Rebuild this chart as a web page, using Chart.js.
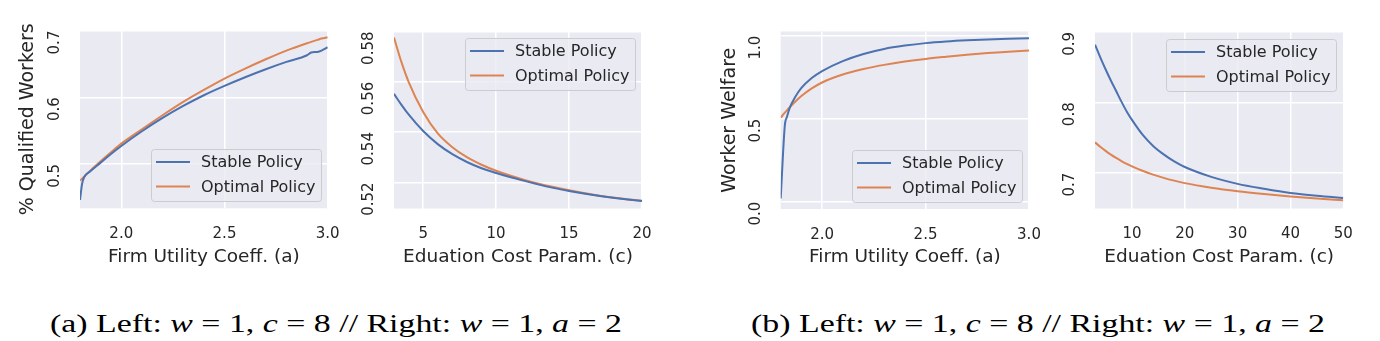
<!DOCTYPE html>
<html>
<head>
<meta charset="utf-8">
<script src="https://cdn.jsdelivr.net/npm/chart.js@4.4.1/dist/chart.umd.min.js"></script>
<style>
  html, body { margin: 0; padding: 0; background: #fff; }
  body { width: 1380px; height: 341px; position: relative; overflow: hidden; }
  canvas { position: absolute; top: 0; }
  .caption { position: absolute; top: 311.5px; font-family: 'Liberation Serif', 'Times New Roman', serif; font-size: 24.5px; line-height: 1; white-space: nowrap; color: #000; transform-origin: 0 0; }
  .caption i { font-style: italic; }
</style>
</head>
<body>
<canvas id="qualByA"></canvas>
<canvas id="qualByC"></canvas>
<canvas id="welfByA"></canvas>
<canvas id="welfByC"></canvas>
<div class="caption" data-left="50" data-width="572">(a) Left: <i>w</i> = 1, <i>c</i> = 8 // Right: <i>w</i> = 1, <i>a</i> = 2</div>
<div class="caption" data-left="751" data-width="574">(b) Left: <i>w</i> = 1, <i>c</i> = 8 // Right: <i>w</i> = 1, <i>a</i> = 2</div>
<script>
'use strict';

// (a) left: % qualified workers vs firm utility coeff.
var qualA = [1.80, 1.81, 1.82, 1.85, 1.90, 1.95, 2.00, 2.10, 2.20, 2.30, 2.40, 2.50, 2.60, 2.70, 2.80, 2.90, 2.92, 2.95, 2.97, 3.00];
var qualAStable = [0.446, 0.470, 0.480, 0.489, 0.502, 0.515, 0.527, 0.549, 0.569, 0.587, 0.603, 0.617, 0.630, 0.642, 0.653, 0.663, 0.667, 0.668, 0.670, 0.675];
var qualAOptimal = [0.475, 0.478, 0.481, 0.490, 0.504, 0.5175, 0.5305, 0.552, 0.573, 0.593, 0.611, 0.628, 0.643, 0.657, 0.670, 0.681, 0.683, 0.686, 0.688, 0.690];
var qualAXTicks = [2.0, 2.5, 3.0];
var qualAYTicks = [0.5, 0.6, 0.7];

// (a) right: % qualified workers vs education cost
var qualC = [3, 3.5, 4, 5, 6, 7, 8, 9, 10, 11, 12, 13, 14, 15, 16, 17, 18, 19, 20];
var qualCStable = [0.5552, 0.5509, 0.5470, 0.5404, 0.5352, 0.5312, 0.5281, 0.5256, 0.5237, 0.5220, 0.5205, 0.5190, 0.5177, 0.5166, 0.5156, 0.5147, 0.5139, 0.5132, 0.5126];
var qualCOptimal = [0.5776, 0.5680, 0.5600, 0.5480, 0.5395, 0.5340, 0.5300, 0.5270, 0.5246, 0.5226, 0.5209, 0.5194, 0.5181, 0.5169, 0.5158, 0.5148, 0.5140, 0.5133, 0.5127];
var qualCXTicks = [5, 10, 15, 20];
var qualCYTicks = [0.52, 0.54, 0.56, 0.58];

// (b) left: worker welfare vs firm utility coeff.
var welfA = [1.80, 1.82, 1.83, 1.845, 1.87, 1.90, 1.95, 2.00, 2.10, 2.20, 2.30, 2.40, 2.50, 2.60, 2.70, 2.80, 2.90, 3.00];
var welfAStable = [0.02, 0.46, 0.51, 0.57, 0.63, 0.685, 0.745, 0.787, 0.847, 0.890, 0.920, 0.940, 0.955, 0.965, 0.972, 0.977, 0.981, 0.985];
var welfAOptimal = [0.506, 0.536, 0.550, 0.570, 0.602, 0.636, 0.682, 0.718, 0.766, 0.799, 0.824, 0.844, 0.860, 0.873, 0.885, 0.895, 0.903, 0.911];
var welfAXTicks = [2.0, 2.5, 3.0];
var welfAYTicks = [0.0, 0.5, 1.0];

// (b) right: worker welfare vs education cost
var welfC = [3, 4, 5, 6, 7, 8, 9, 10, 12, 14, 16, 18, 20, 25, 30, 35, 40, 45, 50];
var welfCStable = [0.882, 0.864, 0.847, 0.831, 0.816, 0.801, 0.787, 0.775, 0.754, 0.738, 0.726, 0.716, 0.708, 0.694, 0.684, 0.677, 0.671, 0.667, 0.664];
var welfCOptimal = [0.743, 0.7368, 0.7310, 0.7257, 0.7209, 0.7165, 0.7125, 0.7089, 0.7026, 0.6972, 0.6926, 0.6886, 0.6851, 0.6786, 0.6736, 0.6696, 0.6661, 0.6631, 0.6606];
var welfCXTicks = [10, 20, 30, 40, 50];
var welfCYTicks = [0.7, 0.8, 0.9];

var BLUE = '#4c72b0';
var ORANGE = '#dd8452';
var INK = '#262626';
var FONT = '"DejaVu Sans", sans-serif';

var plotBg = {
  id: 'plotBg',
  beforeDraw: function (chart) {
    var a = chart.chartArea, ctx = chart.ctx;
    ctx.save();
    ctx.fillStyle = '#eaeaf2';
    ctx.fillRect(a.left, a.top, a.right - a.left, a.bottom - a.top);
    ctx.restore();
  }
};

var boxLegend = {
  id: 'boxLegend',
  afterDraw: function (chart, args, opts) {
    var a = chart.chartArea, ctx = chart.ctx;
    var w = 170, h = 52;
    var x = Math.round(a.right - 7 - w);
    var y = Math.round(opts.corner === 'top' ? a.top + 7 : a.bottom - 7 - h);
    ctx.save();
    ctx.beginPath();
    ctx.roundRect(x + 0.5, y + 0.5, w, h, 3);
    ctx.fillStyle = 'rgba(234, 234, 242, 0.8)';
    ctx.fill();
    ctx.strokeStyle = '#cccccc';
    ctx.lineWidth = 1;
    ctx.stroke();
    ctx.font = '16px ' + FONT;
    ctx.textBaseline = 'middle';
    chart.data.datasets.forEach(function (ds, i) {
      var ly = y + 13 + i * 24.4;
      ctx.strokeStyle = ds.borderColor;
      ctx.lineWidth = 2;
      ctx.beginPath();
      ctx.moveTo(x + 5, ly);
      ctx.lineTo(x + 39, ly);
      ctx.stroke();
      ctx.fillStyle = INK;
      ctx.fillText(ds.label, x + 50, ly + 1);
    });
    ctx.restore();
  }
};

function pairs(xs, ys) {
  return xs.map(function (v, i) { return { x: v, y: ys[i] }; });
}

function noScalePadding(s) {
  s.paddingLeft = 0; s.paddingRight = 0; s.paddingTop = 0; s.paddingBottom = 0;
}

function makePanel(id, p) {
  var cv = document.getElementById(id);
  var left = Math.floor(p.box.l) - 80;
  var width = Math.ceil(p.box.r) + 30 - left;
  cv.width = width; cv.height = 290;
  cv.style.left = left + 'px';
  cv.style.width = width + 'px';
  cv.style.height = '290px';

  new Chart(cv.getContext('2d'), {
    type: 'line',
    data: {
      datasets: [
        { label: 'Stable Policy', data: pairs(p.x, p.stable), borderColor: BLUE, backgroundColor: BLUE },
        { label: 'Optimal Policy', data: pairs(p.x, p.optimal), borderColor: ORANGE, backgroundColor: ORANGE }
      ]
    },
    options: {
      responsive: false, animation: false, devicePixelRatio: 1,
      layout: { padding: { left: 0, top: p.box.t, right: left + width - p.box.r, bottom: 290 - 70 - p.box.b } },
      elements: { point: { radius: 0 }, line: { borderWidth: 2, cubicInterpolationMode: 'monotone' } },
      plugins: { legend: { display: false }, tooltip: { enabled: false }, boxLegend: { corner: p.legend } },
      scales: {
        x: {
          type: 'linear', min: p.xMin, max: p.xMax,
          afterBuildTicks: function (s) { s.ticks = p.xTicks.map(function (v) { return { value: v }; }); },
          afterFit: function (s) { s.height = 70; noScalePadding(s); },
          grid: { color: '#ffffff', lineWidth: 1.5, drawTicks: false },
          border: { display: false },
          ticks: { padding: 17, color: INK, font: { family: FONT, size: 15 }, maxRotation: 0,
            callback: function (v) { return v.toFixed(p.xDec); } },
          title: { display: true, text: p.xTitle, color: INK, font: { family: FONT, size: 18.5 },
            padding: { top: 0, bottom: (p.box.b + 70) - 11.1 - 257 } }
        },
        y: {
          type: 'linear', min: p.yMin, max: p.yMax,
          afterBuildTicks: function (s) { s.ticks = p.yTicks.map(function (v) { return { value: v }; }); },
          afterFit: function (s) { s.width = p.box.l - left; noScalePadding(s); },
          grid: { color: '#ffffff', lineWidth: 1.5, drawTicks: false },
          border: { display: false },
          ticks: { padding: 25, color: INK, font: { family: FONT, size: 15 }, minRotation: 90, maxRotation: 90,
            callback: function (v) { return v.toFixed(p.yDec); } },
          title: { display: !!p.yTitle, text: p.yTitle || '', color: INK, font: { family: FONT, size: 19 },
            padding: { top: p.yTitleX - left - 11.4, bottom: 0 } }
        }
      }
    },
    plugins: [plotBg, boxLegend]
  });
}

makePanel('qualByA', {
  box: { l: 80, t: 30.3, r: 327.7, b: 208.3 },
  x: qualA, stable: qualAStable, optimal: qualAOptimal,
  xMin: 1.8, xMax: 3.0, yMin: 0.4335, yMax: 0.7004,
  xTicks: qualAXTicks, yTicks: qualAYTicks, xDec: 1, yDec: 1,
  xTitle: 'Firm Utility Coeff. (a)', yTitle: '% Qualified Workers', yTitleX: 28, legend: 'bottom'
});
makePanel('qualByC', {
  box: { l: 394, t: 31, r: 642, b: 208.5 },
  x: qualC, stable: qualCStable, optimal: qualCOptimal,
  xMin: 3, xMax: 20, yMin: 0.5096, yMax: 0.5802,
  xTicks: qualCXTicks, yTicks: qualCYTicks, xDec: 0, yDec: 2,
  xTitle: 'Eduation Cost Param. (c)', legend: 'top'
});
makePanel('welfByA', {
  box: { l: 780.7, t: 31.5, r: 1029, b: 209 },
  x: welfA, stable: welfAStable, optimal: welfAOptimal,
  xMin: 1.8, xMax: 3.0, yMin: -0.044, yMax: 1.025,
  xTicks: welfAXTicks, yTicks: welfAYTicks, xDec: 1, yDec: 1,
  xTitle: 'Firm Utility Coeff. (a)', yTitle: 'Worker Welfare', yTitleX: 730, legend: 'bottom'
});
makePanel('welfByC', {
  box: { l: 1095, t: 31.7, r: 1343.3, b: 208.5 },
  x: welfC, stable: welfCStable, optimal: welfCOptimal,
  xMin: 3, xMax: 50, yMin: 0.649, yMax: 0.9004,
  xTicks: welfCXTicks, yTicks: welfCYTicks, xDec: 0, yDec: 1,
  xTitle: 'Eduation Cost Param. (c)', legend: 'top'
});

document.querySelectorAll('.caption').forEach(function (el) {
  el.style.left = el.dataset.left + 'px';
  var w = el.getBoundingClientRect().width;
  el.style.transform = 'scaleX(' + (Number(el.dataset.width) / w) + ')';
});
</script>
</body>
</html>
